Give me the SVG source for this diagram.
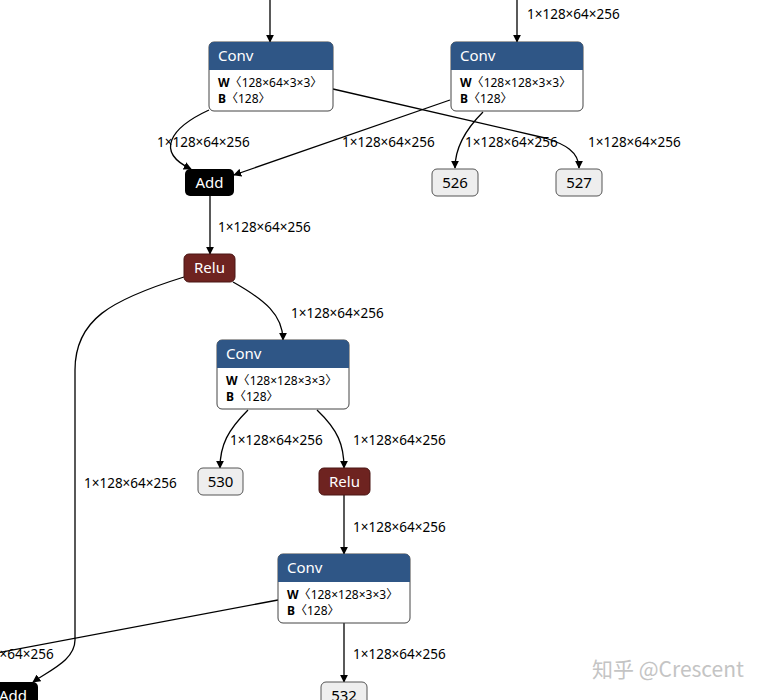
<svg xmlns="http://www.w3.org/2000/svg" width="778" height="700" viewBox="0 0 778 700">
<style>
.lbl{font-family:"Noto Sans","DejaVu Sans",sans-serif;font-size:13.5px;fill:#000}
.hdr{fill:#2f5686}
.body{fill:#fff;stroke:#444;stroke-width:1}
.ttl{font-family:"Noto Sans","DejaVu Sans",sans-serif;font-size:15px;fill:#fff}
.attr{font-family:"Noto Sans","Noto Sans CJK SC",sans-serif;font-size:12px;fill:#000}
.attr .k{font-weight:bold}
.br{font-family:"Noto Sans CJK SC",sans-serif}
.ctr{font-family:"Noto Sans","DejaVu Sans",sans-serif;font-size:15px;text-anchor:middle}
.const{fill:#eee;stroke:#555;stroke-width:1}
.edge{fill:none;stroke:#000;stroke-width:1.3;marker-end:url(#arr)}
</style>
<defs>
<marker id="arr" viewBox="0 0 10 10" refX="9" refY="5" markerWidth="8" markerHeight="8" markerUnits="userSpaceOnUse" orient="auto">
<path d="M0,0 L10,5 L0,10 z" fill="#000"/>
</marker>
</defs>
<rect width="778" height="700" fill="#fff"/>
<g id="edges">
<path class="edge" d="M270 0 L270 42"/>
<path class="edge" d="M517 0 L517 42"/>
<path class="edge" d="M209 110 C170 128 155 152 191 169"/>
<path class="edge" d="M333 89 L545 138 C565 144 579 152 579 168"/>
<path class="edge" d="M450 100 L234 175"/>
<path class="edge" d="M483 112 C465 130 455 148 455 168"/>
<path class="edge" d="M210 196 L210 254"/>
<path class="edge" d="M233 282 C265 300 283 315 283 340"/>
<path class="edge" d="M184 277 C110 300 75 320 75 370 L75 640 C75 660 50 670 33 682"/>
<path class="edge" d="M248 410 C228 430 220 445 220 468"/>
<path class="edge" d="M317 410 C338 430 344 445 344 468"/>
<path class="edge" d="M344 495 L344 554"/>
<path class="edge" d="M278 600 L-30 658"/>
<path class="edge" d="M344 623 L344 682"/>
</g>
<g id="labels">
<text class="lbl" x="527" y="19">1×128×64×256</text>
<text class="lbl" x="157" y="147">1×128×64×256</text>
<text class="lbl" x="342" y="147">1×128×64×256</text>
<text class="lbl" x="465" y="147">1×128×64×256</text>
<text class="lbl" x="588" y="147">1×128×64×256</text>
<text class="lbl" x="218" y="232">1×128×64×256</text>
<text class="lbl" x="291" y="318">1×128×64×256</text>
<text class="lbl" x="230" y="445">1×128×64×256</text>
<text class="lbl" x="353" y="445">1×128×64×256</text>
<text class="lbl" x="84" y="488">1×128×64×256</text>
<text class="lbl" x="353" y="532">1×128×64×256</text>
<text class="lbl" x="-39" y="659">1×128×64×256</text>
<text class="lbl" x="353" y="659">1×128×64×256</text>
</g>
<g id="conv1">
<rect class="body" x="209" y="42" width="124" height="69" rx="5"/>
<path class="hdr" d="M214 42 H328 A5 5 0 0 1 333 47 V70 H209 V47 A5 5 0 0 1 214 42 Z"/>
<text class="ttl" x="218" y="61">Conv</text>
<text class="attr" x="218" y="87"><tspan class="k">W</tspan><tspan class="br">〈</tspan>128×64×3×3<tspan class="br">〉</tspan></text>
<text class="attr" x="218" y="103"><tspan class="k">B</tspan><tspan class="br">〈</tspan>128<tspan class="br">〉</tspan></text>
</g>
<g id="conv2">
<rect class="body" x="451" y="42" width="132" height="69" rx="5"/>
<path class="hdr" d="M456 42 H578 A5 5 0 0 1 583 47 V70 H451 V47 A5 5 0 0 1 456 42 Z"/>
<text class="ttl" x="460" y="61">Conv</text>
<text class="attr" x="460" y="87"><tspan class="k">W</tspan><tspan class="br">〈</tspan>128×128×3×3<tspan class="br">〉</tspan></text>
<text class="attr" x="460" y="103"><tspan class="k">B</tspan><tspan class="br">〈</tspan>128<tspan class="br">〉</tspan></text>
</g>
<g id="add1">
<rect x="185" y="169" width="49" height="27" rx="5" fill="#000"/>
<text class="ctr" x="209.5" y="187.5" fill="#fff">Add</text>
</g>
<g id="n526">
<rect class="const" x="432" y="169" width="46" height="27" rx="5"/>
<text class="ctr" x="455" y="187.5" fill="#000">526</text>
</g>
<g id="n527">
<rect class="const" x="556" y="169" width="46" height="27" rx="5"/>
<text class="ctr" x="579" y="187.5" fill="#000">527</text>
</g>
<g id="relu1">
<rect x="184" y="254" width="51" height="28" rx="5" fill="#6e2320" stroke="#4a1614"/>
<text class="ctr" x="209.5" y="273" fill="#fff">Relu</text>
</g>
<g id="conv3">
<rect class="body" x="217" y="340" width="132" height="69" rx="5"/>
<path class="hdr" d="M222 340 H344 A5 5 0 0 1 349 345 V368 H217 V345 A5 5 0 0 1 222 340 Z"/>
<text class="ttl" x="226" y="359">Conv</text>
<text class="attr" x="226" y="385"><tspan class="k">W</tspan><tspan class="br">〈</tspan>128×128×3×3<tspan class="br">〉</tspan></text>
<text class="attr" x="226" y="401"><tspan class="k">B</tspan><tspan class="br">〈</tspan>128<tspan class="br">〉</tspan></text>
</g>
<g id="n530">
<rect class="const" x="198" y="468" width="45" height="27" rx="5"/>
<text class="ctr" x="220.5" y="486.5" fill="#000">530</text>
</g>
<g id="relu2">
<rect x="319" y="468" width="51" height="27" rx="5" fill="#6e2320" stroke="#4a1614"/>
<text class="ctr" x="344.5" y="486.5" fill="#fff">Relu</text>
</g>
<g id="conv4">
<rect class="body" x="278" y="554" width="132" height="69" rx="5"/>
<path class="hdr" d="M283 554 H405 A5 5 0 0 1 410 559 V582 H278 V559 A5 5 0 0 1 283 554 Z"/>
<text class="ttl" x="287" y="573">Conv</text>
<text class="attr" x="287" y="599"><tspan class="k">W</tspan><tspan class="br">〈</tspan>128×128×3×3<tspan class="br">〉</tspan></text>
<text class="attr" x="287" y="615"><tspan class="k">B</tspan><tspan class="br">〈</tspan>128<tspan class="br">〉</tspan></text>
</g>
<g id="n532">
<rect class="const" x="321" y="682" width="46" height="27" rx="5"/>
<text class="ctr" x="344" y="700.5" fill="#000">532</text>
</g>
<g id="add2">
<rect x="-12" y="682" width="50" height="27" rx="5" fill="#000"/>
<text class="ctr" x="13" y="700.5" fill="#fff">Add</text>
</g>
<text x="592" y="677" font-family="'Noto Sans CJK SC','Noto Sans',sans-serif" font-size="21" fill="#c4c4c4">知乎 @Crescent</text>
</svg>
